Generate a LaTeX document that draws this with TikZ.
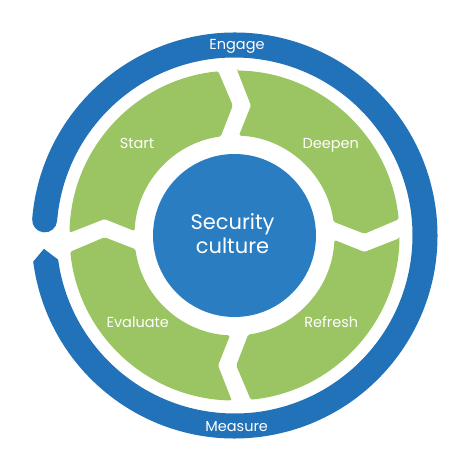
\documentclass[tikz,border=0pt]{standalone}
\usepackage{fontspec}
\setmainfont{Poppins}
\definecolor{ringblue}{RGB}{33,114,184}
\definecolor{coreblue}{RGB}{42,125,192}
\definecolor{leafgreen}{RGB}{155,197,99}
\tikzset{
  seglabel/.style={text=white, font=\fontsize{14.5}{17}\selectfont, anchor=base, inner sep=0pt},
  ringlabel/.style={text=white, font=\fontsize{14.5}{17}\selectfont, anchor=base, inner sep=0pt},
  corelabel/.style={text=white, font=\fontsize{21}{25}\selectfont, anchor=base, inner sep=0pt},
}
\begin{document}
\begin{tikzpicture}[x=1pt,y=1pt]
\useasboundingbox (-234.5pt,-234.5pt) rectangle (234.5pt,235.5pt);
% outer blue ring (one piece, pointed start, round end)
\fill[ringblue] (184:191pt) -- (187.4:203pt)
  arc[start angle=187.4, end angle=535.3, radius=203pt]
  arc[start angle=175.3, end angle=355.3, radius=12.5pt]
  arc[start angle=535.3, end angle=187.8, radius=178pt]
  -- cycle;
% green segments
\foreach \p in {0,-90,-180,-270}{
  \fill[leafgreen, rounded corners=1.5pt]
    (89.05+\p:165pt) -- (82.77+\p:131pt) -- (87.42+\p:100pt)
    arc[start angle=87.42+\p, end angle=7.90+\p, radius=100pt]
    -- (0.77+\p:130pt) -- (5.65+\p:165pt)
    arc[start angle=5.65+\p, end angle=89.05+\p, radius=165pt]
    -- cycle;
}
% core
\node[circle, fill=coreblue, minimum size=163pt, inner sep=0pt] (core) at (0pt,0pt) {};
\node[corelabel] (sec) at (-2pt,6.2pt) {Security};
\node[corelabel] (cul) at (-2pt,-17.8pt) {culture};
% segment labels
\node[seglabel] (start) at (-97.5pt,87.2pt) {Start};
\node[seglabel] (deepen) at (96.3pt,87.2pt) {Deepen};
\node[seglabel] (evaluate) at (-96.7pt,-92pt) {Evaluate};
\node[seglabel] (refresh) at (96.7pt,-92pt) {Refresh};
% ring labels
\node[ringlabel] (engage) at (2.5pt,186.2pt) {Engage};
\node[ringlabel] (measure) at (2.2pt,-196.2pt) {Measure};
\end{tikzpicture}
\end{document}
